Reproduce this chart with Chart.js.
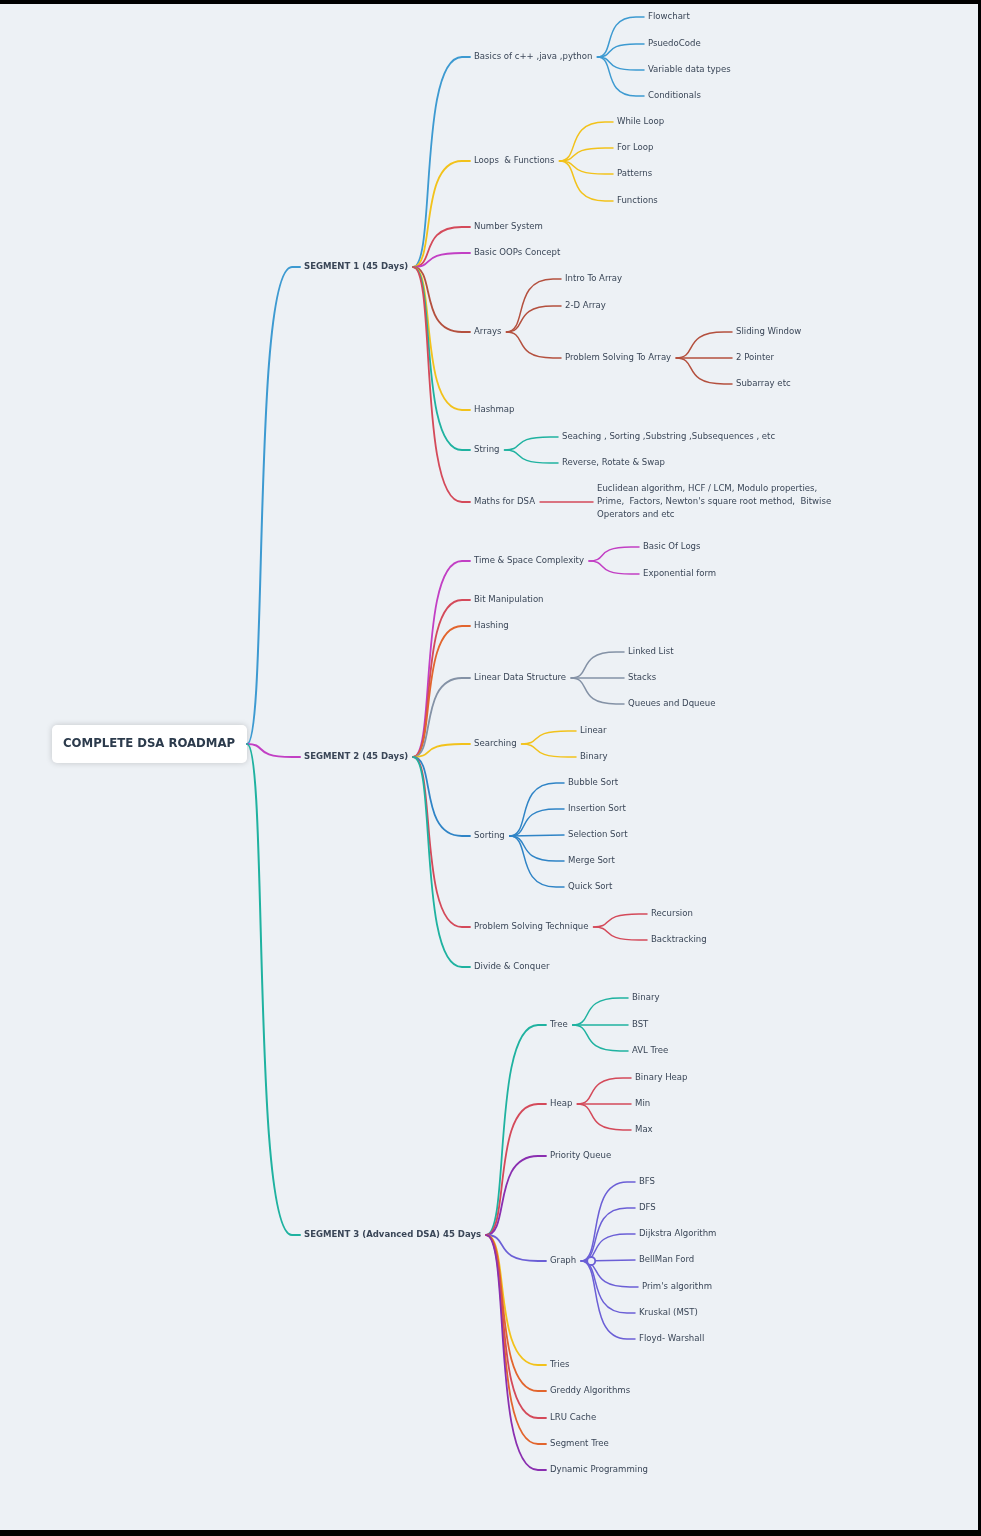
<!DOCTYPE html>
<html>
<head>
<meta charset="UTF-8">
<title>COMPLETE DSA ROADMAP</title>
<script src="https://cdn.jsdelivr.net/npm/chart.js@4.4.0/dist/chart.umd.min.js"></script>
<style>
    body { margin: 0; background: #000; }
    .wrap { position: absolute; left: 0; top: 4px; width: 978px; height: 1526px; background: #edf1f5; }
    canvas { display: block; }
</style>
</head>
<body>
<div class="wrap"><canvas id="map" width="978" height="1526"></canvas></div>
<script>
// nodes of the roadmap (parent = index into labels, -1 for root)
const labels = [
    'COMPLETE DSA ROADMAP',
    'SEGMENT 1 (45 Days)', 'SEGMENT 2 (45 Days)', 'SEGMENT 3 (Advanced DSA) 45 Days',
    // segment 1 (3..)
    'Basics of c++ ,java ,python', 'Loops  & Functions', 'Number System', 'Basic OOPs Concept', 'Arrays', 'Hashmap', 'String', 'Maths for DSA',
    // 12..
    'Flowchart', 'PsuedoCode', 'Variable data types', 'Conditionals',
    'While Loop', 'For Loop', 'Patterns', 'Functions',
    'Intro To Array', '2-D Array', 'Problem Solving To Array',
    'Sliding Window', '2 Pointer', 'Subarray etc',
    'Seaching , Sorting ,Substring ,Subsequences , etc', 'Reverse, Rotate & Swap',
    'Euclidean algorithm, HCF / LCM, Modulo properties,\nPrime,  Factors, Newton\'s square root method,  Bitwise\nOperators and etc',
    // segment 2 (29..)
    'Time & Space Complexity', 'Bit Manipulation', 'Hashing', 'Linear Data Structure', 'Searching', 'Sorting', 'Problem Solving Technique', 'Divide & Conquer',
    // 37..
    'Basic Of Logs', 'Exponential form',
    'Linked List', 'Stacks', 'Queues and Dqueue',
    'Linear', 'Binary',
    'Bubble Sort', 'Insertion Sort', 'Selection Sort', 'Merge Sort', 'Quick Sort',
    'Recursion', 'Backtracking',
    // segment 3 (51..)
    'Tree', 'Heap', 'Priority Queue', 'Graph', 'Tries', 'Greddy Algorithms', 'LRU Cache', 'Segment Tree', 'Dynamic Programming',
    // 60..
    'Binary', 'BST', 'AVL Tree',
    'Binary Heap', 'Min', 'Max',
    'BFS', 'DFS', 'Dijkstra Algorithm', 'BellMan Ford', 'Prim\'s algorithm', 'Kruskal (MST)', 'Floyd- Warshall'
];
const parents = [
    -1, 0, 0, 0,
    1, 1, 1, 1, 1, 1, 1, 1,
    4, 4, 4, 4, 5, 5, 5, 5, 8, 8, 8, 22, 22, 22, 10, 10, 11,
    2, 2, 2, 2, 2, 2, 2, 2,
    29, 29, 32, 32, 32, 33, 33, 34, 34, 34, 34, 34, 35, 35,
    3, 3, 3, 3, 3, 3, 3, 3, 3,
    51, 51, 51, 52, 52, 52, 54, 54, 54, 54, 54, 54, 54
];
// column (text start) and row of each node
const nodeX = [
    63, 304, 304, 304,
    474, 474, 474, 474, 474, 474, 474, 474,
    648, 648, 648, 648, 617, 617, 617, 617, 565, 565, 565, 736, 736, 736, 562, 562, 597,
    474, 474, 474, 474, 474, 474, 474, 474,
    643, 643, 628, 628, 628, 580, 580, 568, 568, 568, 568, 568, 651, 651,
    550, 550, 550, 550, 550, 550, 550, 550, 550,
    632, 632, 632, 635, 635, 635, 639, 639, 639, 639, 642, 639, 639
];
const nodeY = [
    744, 267, 757, 1235,
    57, 161, 227, 253, 332, 410, 450, 502,
    17, 44, 70, 96, 122, 148, 174, 201, 279, 306, 358, 332, 358, 384, 437, 463, 502,
    561, 600, 626, 678, 744, 836, 927, 967,
    547, 574, 652, 678, 704, 731, 757, 783, 809, 835, 861, 887, 914, 940,
    1025, 1104, 1156, 1261, 1365, 1391, 1418, 1444, 1470,
    998, 1025, 1051, 1078, 1104, 1130, 1182, 1208, 1234, 1260, 1287, 1313, 1339
];

const C = {
    blue: '#3d9ad1', yellow: '#f2c21b', red: '#d44a5a', mag: '#c23fc4', brown: '#b4503e',
    teal: '#1fb2a0', orange: '#e2652e', grey: '#8492a6', sblue: '#2f84c6', purple: '#8a2fb0', violet: '#6b5fd6'
};
const branchColor = [
    null, C.blue, C.mag, C.teal,
    C.blue, C.yellow, C.red, C.mag, C.brown, C.yellow, C.teal, C.red,
    C.blue, C.blue, C.blue, C.blue, C.yellow, C.yellow, C.yellow, C.yellow, C.brown, C.brown, C.brown, C.brown, C.brown, C.brown, C.teal, C.teal, C.red,
    C.mag, C.red, C.orange, C.grey, C.yellow, C.sblue, C.red, C.teal,
    C.mag, C.mag, C.grey, C.grey, C.grey, C.yellow, C.yellow, C.sblue, C.sblue, C.sblue, C.sblue, C.sblue, C.red, C.red,
    C.teal, C.red, C.purple, C.violet, C.yellow, C.orange, C.red, C.orange, C.purple,
    C.teal, C.teal, C.teal, C.red, C.red, C.red, C.violet, C.violet, C.violet, C.violet, C.violet, C.violet, C.violet
];

const FONT = '"Liberation Sans Narrow", "DejaVu Sans Condensed", Arial, sans-serif';

const mindMap = {
    id: 'mindMap',
    afterDatasetsDraw(chart) {
        const ctx = chart.ctx;
        const xs = chart.scales.x, ys = chart.scales.y;
        const px = i => xs.getPixelForValue(nodeX[i]);
        const py = i => ys.getPixelForValue(nodeY[i]);
        const fontFor = i => i === 0 ? 'bold 13px ' + FONT : (i <= 3 ? 'bold 9.5px ' + FONT : '9.5px ' + FONT);
        const lines = i => labels[i].split('\n');
        const outX = i => {
            if (i === 0) return xs.getPixelForValue(247);
            ctx.font = fontFor(i);
            return px(i) + Math.max(...lines(i).map(l => ctx.measureText(l).width)) + 5;
        };
        ctx.save();
        // root box
        ctx.shadowColor = 'rgba(0,0,0,0.18)';
        ctx.shadowBlur = 6;
        ctx.fillStyle = '#ffffff';
        ctx.beginPath();
        ctx.roundRect(xs.getPixelForValue(52), py(0) - 19, 195, 38, 5);
        ctx.fill();
        ctx.shadowBlur = 0;
        // edges
        ctx.lineCap = 'round';
        for (let i = 1; i < labels.length; i++) {
            const p = parents[i];
            const sx = outX(p), sy = py(p);
            const ex = px(i) - 4, ey = py(i);
            ctx.strokeStyle = branchColor[i];
            ctx.lineWidth = p === 0 ? 2 : (p <= 3 ? 1.8 : 1.5);
            ctx.beginPath();
            ctx.moveTo(sx, sy);
            if (Math.abs(ey - sy) < 2) {
                ctx.lineTo(ex, ey);
            } else {
                const mx = sx + (ex - 6 - sx) * 0.45;
                ctx.bezierCurveTo(mx, sy, sx + (ex - 6 - sx) * 0.1, ey, ex - 8, ey);
                ctx.lineTo(ex, ey);
            }
            ctx.stroke();
        }
        // graph junction circle
        const g = labels.indexOf('Graph');
        ctx.strokeStyle = C.violet; ctx.lineWidth = 1.8; ctx.fillStyle = '#edf1f5';
        ctx.beginPath(); ctx.arc(outX(g) + 10, py(g), 4, 0, Math.PI * 2); ctx.fill(); ctx.stroke();
        // labels
        ctx.textBaseline = 'middle';
        for (let i = 0; i < labels.length; i++) {
            ctx.font = fontFor(i);
            ctx.fillStyle = i === 0 ? '#2c3b4c' : '#3a4657';
            const ls = lines(i);
            ls.forEach((l, k) => ctx.fillText(l, px(i), py(i) + (k - (ls.length - 1) / 2) * 13));
        }
        ctx.restore();
    }
};

new Chart(document.getElementById('map'), {
    type: 'scatter',
    data: { datasets: [{ data: labels.map((l, i) => ({ x: nodeX[i], y: nodeY[i] })), pointRadius: 0 }] },
    options: {
        responsive: false, animation: false,
        layout: { padding: 0 },
        plugins: { legend: { display: false }, tooltip: { enabled: false } },
        scales: {
            x: { type: 'linear', display: false, min: 0, max: 978 },
            y: { type: 'linear', display: false, min: 4, max: 1530, reverse: true }
        }
    },
    plugins: [mindMap]
});
</script>
</body>
</html>
